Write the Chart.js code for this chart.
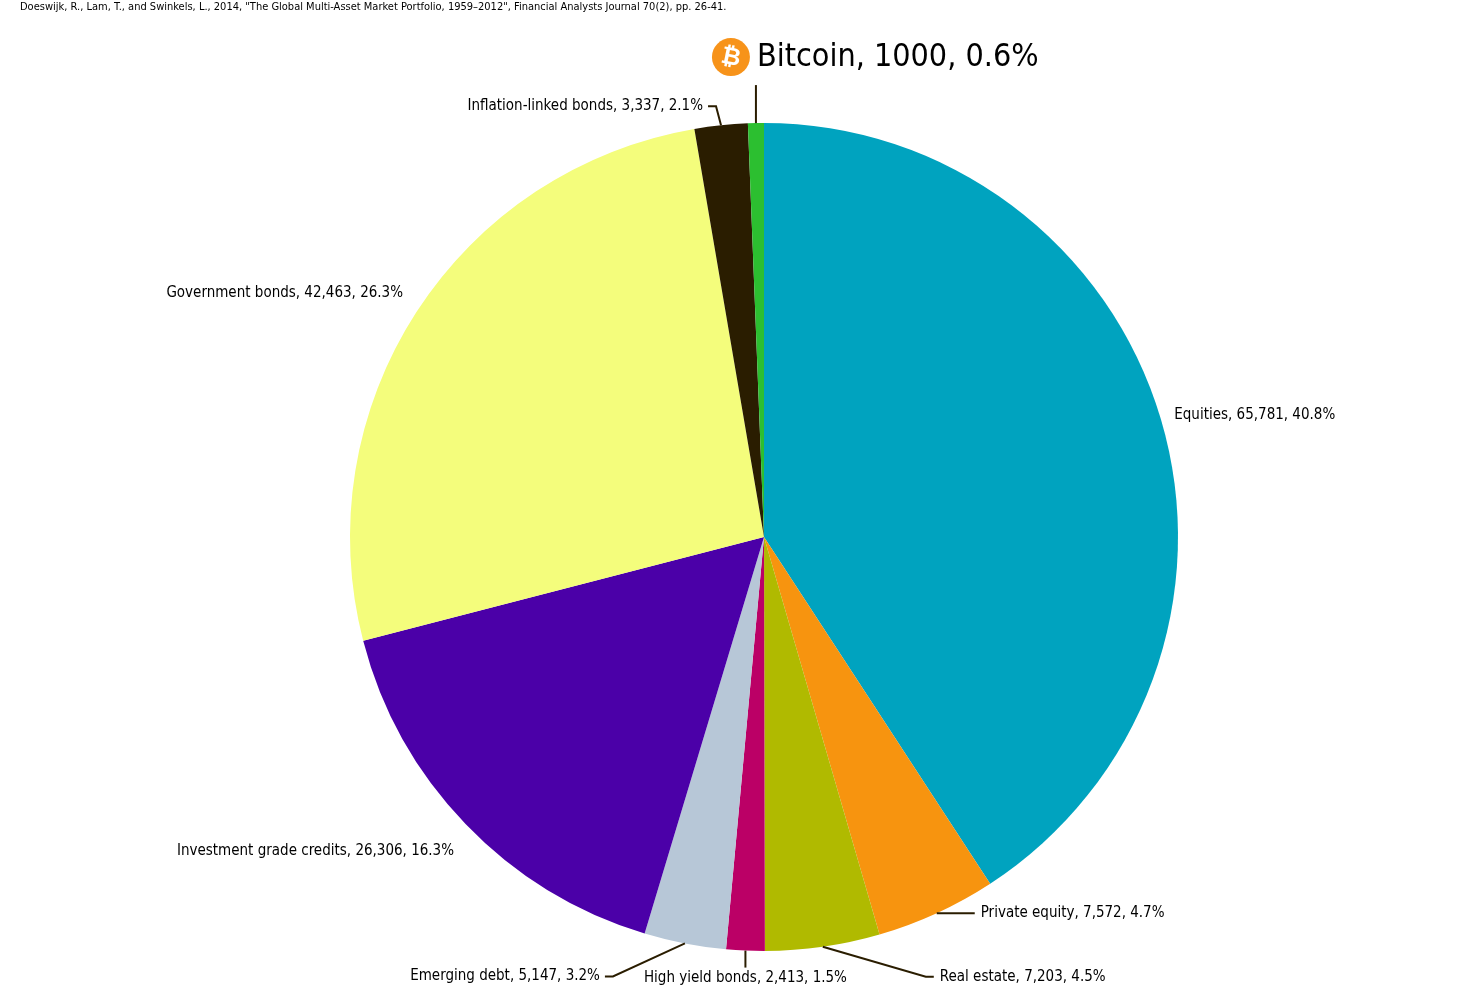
<!DOCTYPE html>
<html>
<head>
<meta charset="utf-8">
<script src="https://cdn.jsdelivr.net/npm/chart.js@4"></script>
<style>
  body { margin: 0; background: #fff; }
  #source { position: absolute; left: 20px; top: 0px; font: 11px 'Liberation Sans Narrow', 'DejaVu Sans Condensed', sans-serif; color: #000; }
</style>
</head>
<body>
<div id="source">Doeswijk, R., Lam, T., and Swinkels, L., 2014, "The Global Multi-Asset Market Portfolio, 1959–2012", Financial Analysts Journal 70(2), pp. 26-41.</div>
<canvas id="pie" width="1462" height="999"></canvas>
<script>
const categories = ['Equities', 'Private equity', 'Real estate', 'High yield bonds', 'Emerging debt',
    'Investment grade credits', 'Government bonds', 'Inflation-linked bonds', 'Bitcoin'];
const values = [65781, 7572, 7203, 2413, 5147, 26306, 42463, 3337, 1000];
const valueLabels = ['65,781', '7,572', '7,203', '2,413', '5,147', '26,306', '42,463', '3,337', '1000'];
const percentLabels = ['40.8%', '4.7%', '4.5%', '1.5%', '3.2%', '16.3%', '26.3%', '2.1%', '0.6%'];
const colors = ['#00a3bf', '#f7940f', '#b0ba00', '#bb0066', '#b7c7d7', '#4b00a8', '#f4fd7c', '#2a1d00', '#2cbf30'];

const FONT = "'Liberation Sans Narrow', 'DejaVu Sans Condensed', sans-serif";

// how each label hangs off its slice: elbow offset from the edge point, then a horizontal run
const labelStyle = [
    {line: false, gap: 14, align: 'left'},
    {elbow: [0, 0], run: 38, align: 'left'},
    {elbow: [103, 30], run: 8, align: 'left'},
    {elbow: [0, 17], run: 0, align: 'center', below: true},
    {elbow: [-72, 33], run: -8, align: 'right'},
    {line: false, gap: 16, align: 'right', dy: 16},
    {line: false, gap: 16, align: 'right', dy: -10},
    {elbow: [-5, -19], run: -8, align: 'right'},
    {elbow: [0, -38], run: 0, align: 'left', big: true}
];

const sliceLabels = {
    id: 'sliceLabels',
    afterDraw(chart) {
        const ctx = chart.ctx;
        const arcs = chart.getDatasetMeta(0).data;
        ctx.save();
        ctx.fillStyle = '#000';
        ctx.strokeStyle = '#2a1d00';
        ctx.lineWidth = 2;
        arcs.forEach((arc, i) => {
            const st = labelStyle[i];
            const mid = (arc.startAngle + arc.endAngle) / 2;
            const r = arc.outerRadius;
            const text = categories[i] + ', ' + valueLabels[i] + ', ' + percentLabels[i];
            if (st.line === false) {
                const x = arc.x + Math.cos(mid) * (r + st.gap);
                const y = arc.y + Math.sin(mid) * (r + st.gap) + (st.dy || 0);
                ctx.font = '15px ' + FONT;
                ctx.textAlign = st.align;
                ctx.textBaseline = 'middle';
                ctx.fillText(text, x, y);
                return;
            }
            const ex = arc.x + Math.cos(mid) * r;
            const ey = arc.y + Math.sin(mid) * r;
            const bx = ex + st.elbow[0];
            const by = ey + st.elbow[1];
            const tx = bx + st.run;
            ctx.beginPath();
            ctx.moveTo(ex, ey);
            ctx.lineTo(bx, by);
            ctx.lineTo(tx, by);
            ctx.stroke();
            if (st.big) {
                // bitcoin badge + large label
                const cx = tx - 25, cy = by - 28;
                ctx.fillStyle = '#f7931a';
                ctx.beginPath();
                ctx.arc(cx, cy, 19, 0, Math.PI * 2);
                ctx.fill();
                ctx.fillStyle = '#fff';
                ctx.font = 'bold 24px ' + FONT;
                ctx.textAlign = 'center';
                ctx.textBaseline = 'middle';
                ctx.save();
                ctx.translate(cx, cy);
                ctx.rotate(0.2);
                ctx.fillText('₿', 0, 1);
                ctx.restore();
                ctx.fillStyle = '#000';
                ctx.font = '32px ' + FONT;
                ctx.textAlign = 'left';
                ctx.fillText(text, tx + 1, cy + 1);
                return;
            }
            ctx.font = '15px ' + FONT;
            ctx.textBaseline = 'middle';
            ctx.textAlign = st.align;
            if (st.below) {
                ctx.textBaseline = 'top';
                ctx.fillText(text, tx, by + 3);
            } else {
                const pad = st.align === 'left' ? 6 : -5;
                ctx.fillText(text, tx + pad, by);
            }
        });
        ctx.restore();
    }
};

new Chart(document.getElementById('pie').getContext('2d'), {
    type: 'pie',
    data: {
        labels: categories,
        datasets: [{
            data: values,
            backgroundColor: colors,
            borderWidth: 0
        }]
    },
    options: {
        responsive: false,
        animation: false,
        layout: {padding: {top: 123, bottom: 48, left: 66, right: 0}},
        plugins: {
            legend: {display: false},
            tooltip: {enabled: false}
        }
    },
    plugins: [sliceLabels]
});
</script>
</body>
</html>
